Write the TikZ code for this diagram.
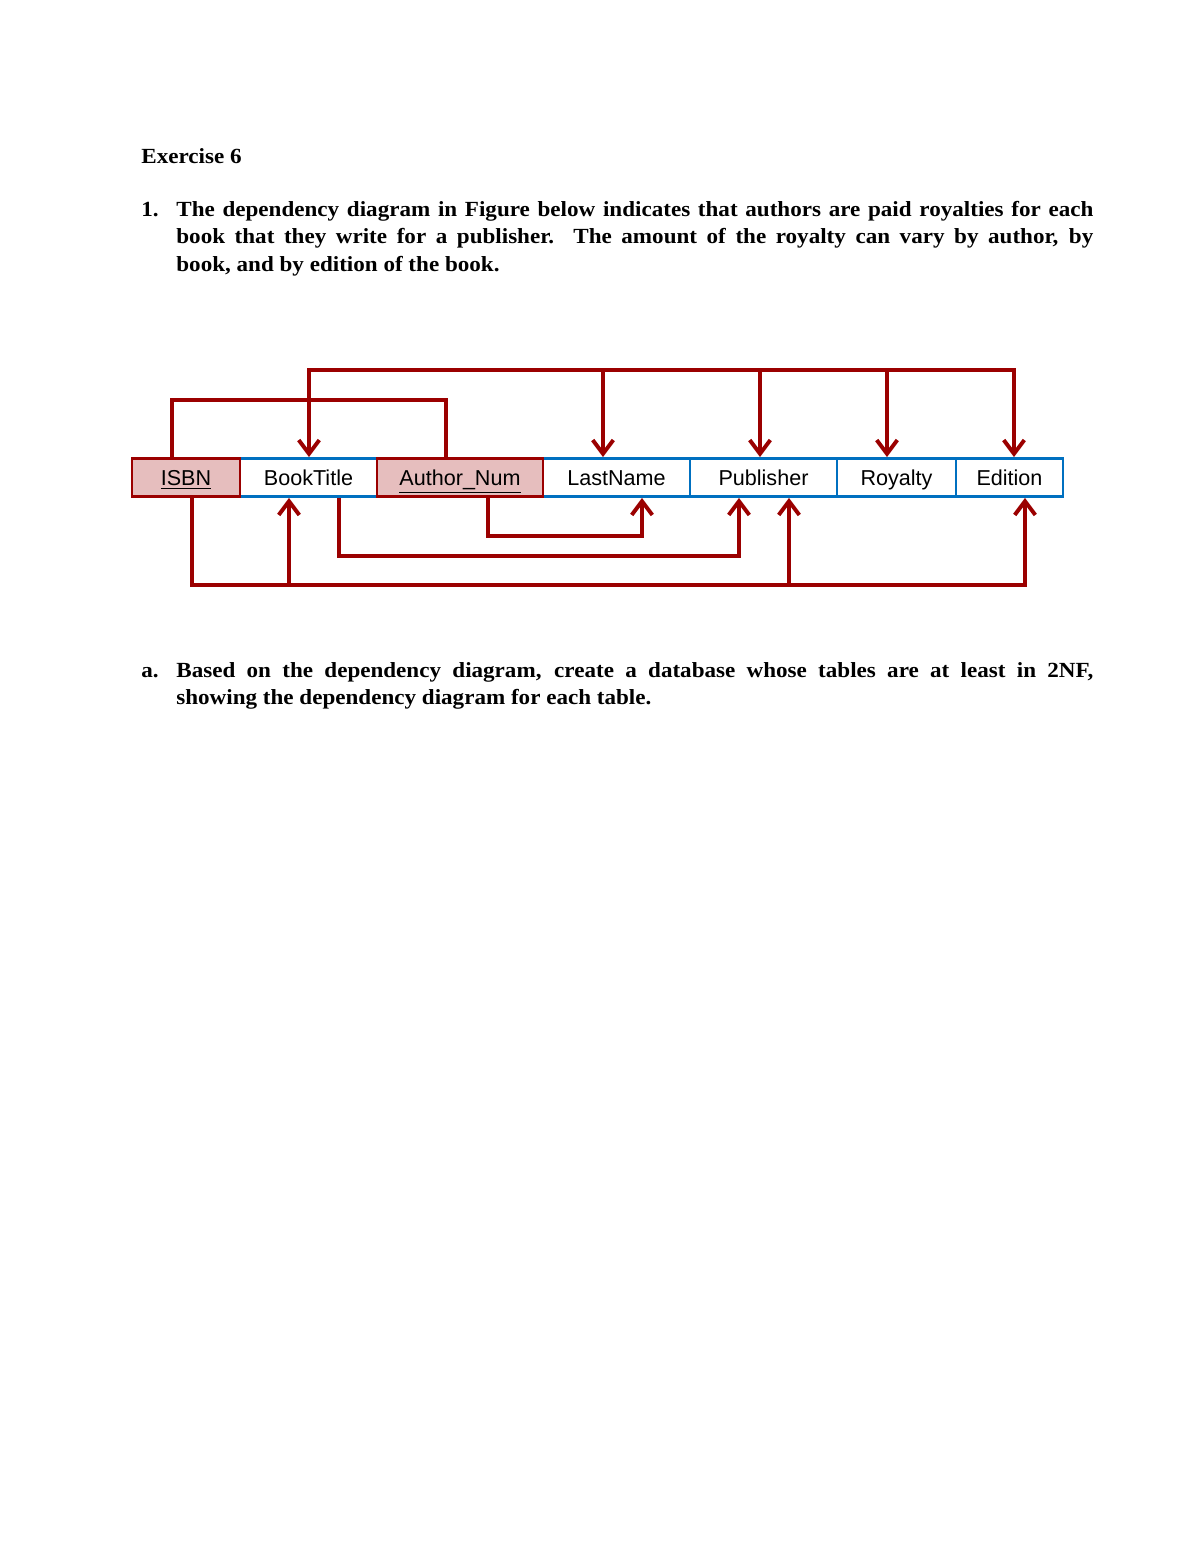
\documentclass[tikz,border=0pt]{standalone}
\usepackage{fontspec}
\setmainfont[FakeStretch=1.07]{Liberation Serif}
\setsansfont{Liberation Sans}
\usetikzlibrary{arrows.meta}
\newdimen\pxu \pxu=0.51pt
\definecolor{depred}{RGB}{155,0,0}
\definecolor{keyfill}{RGB}{230,190,190}
\definecolor{attblue}{RGB}{0,112,192}
\tikzset{
  attr/.style={draw=attblue, line width=1.5pt, fill=white, inner sep=0pt,
    minimum height={38*0.51pt}, text height=10.2pt, text depth=2pt,
    font=\sffamily\fontsize{11}{13}\selectfont},
  keyattr/.style={attr, draw=depred, fill=keyfill},
  dep/.style={draw=depred, line width=2pt},
  arr/.style={dep, -{Straight Barb[length=7pt,width=10.5pt]}},
  para/.style={anchor=base west, inner sep=0pt, font=\bfseries\fontsize{11}{13}\selectfont}
}
\begin{document}
\begin{tikzpicture}[x=0.51pt,y=-0.51pt]
\useasboundingbox (0,0) rectangle (1200,1553);
\fill[white] (0,0) rectangle (1200,1553);
% text
\node[para] (title) at (141,164) {Exercise 6};
\node[para] (n1) at (141,217) {1.};
\node[para] (l1) at (176,217) {\makebox[917\pxu][s]{The dependency diagram in Figure below indicates that authors are paid royalties for each}};
\node[para] (l2) at (176,244) {\makebox[917\pxu][s]{book that they write for a publisher.\ \ The amount of the royalty can vary by author, by}};
\node[para] (l3) at (176,271) {book, and by edition of the book.};
\node[para] (na) at (141,677) {a.};
\node[para] (a1) at (176,677) {\makebox[917\pxu][s]{Based on the dependency diagram, create a database whose tables are at least in 2NF,}};
\node[para] (a2) at (176,704) {showing the dependency diagram for each table.};
% boxes
\node[attr, minimum width={137*0.51pt}] (book) at (308.5,477.5) {BookTitle};
\node[attr, minimum width={147*0.51pt}] (last) at (616.5,477.5) {LastName};
\node[attr, minimum width={147*0.51pt}] (pub) at (763.5,477.5) {Publisher};
\node[attr, minimum width={119*0.51pt}] (roy) at (896.5,477.5) {Royalty};
\node[attr, minimum width={107*0.51pt}] (ed) at (1009.5,477.5) {Edition};
\node[keyattr, minimum width={108*0.51pt}] (isbn) at (186,477.5) {\underline{ISBN}};
\node[keyattr, minimum width={166*0.51pt}] (auth) at (460,477.5) {\underline{Author\_Num}};
% upper dependencies
\coordinate (kl) at (172,400);
\coordinate (kr) at (446,400);
\draw[dep] (kl |- isbn.north) -- (kl) -- (kr) -- (kr |- auth.north);
\coordinate (tl) at (309,370);
\coordinate (tr) at (1014,370);
\coordinate (t1) at (603,370);
\coordinate (t2) at (760,370);
\coordinate (t3) at (887,370);
\draw[arr] (tr) -- (tl) -- (tl |- book.north);
\draw[arr] (tl) -- (tr) -- (tr |- ed.north);
\draw[arr] (t1) -- (t1 |- last.north);
\draw[arr] (t2) -- (t2 |- pub.north);
\draw[arr] (t3) -- (t3 |- roy.north);
% lower dependencies
\coordinate (b1) at (192,585);
\coordinate (b2) at (1025,585);
\coordinate (b3) at (289,585);
\coordinate (b4) at (789,585);
\draw[arr] (b1 |- isbn.south) -- (b1) -- (b2) -- (b2 |- ed.south);
\draw[arr] (b3) -- (b3 |- book.south);
\draw[arr] (b4) -- (b4 |- pub.south);
\coordinate (c1) at (339,556);
\coordinate (c2) at (739,556);
\draw[arr] (c1 |- book.south) -- (c1) -- (c2) -- (c2 |- pub.south);
\coordinate (d1) at (488,536);
\coordinate (d2) at (642,536);
\draw[arr] (d1 |- auth.south) -- (d1) -- (d2) -- (d2 |- last.south);
\end{tikzpicture}
\end{document}
